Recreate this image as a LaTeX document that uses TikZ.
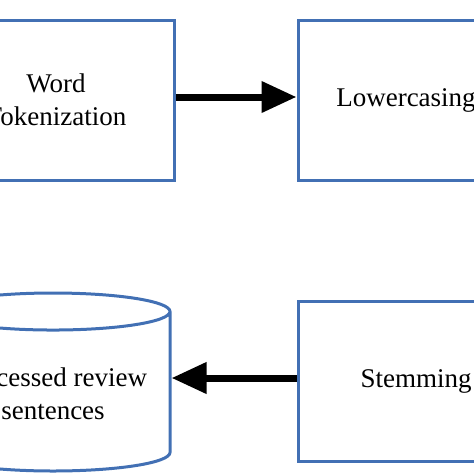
\documentclass[tikz,border=0pt]{standalone}
\usepackage{fontspec}
\setmainfont{Liberation Serif}
\usepackage{tikz}
\usetikzlibrary{arrows.meta,shapes.geometric}
\definecolor{stepblue}{RGB}{66,112,180}

\begin{document}
\begin{tikzpicture}[x=1pt, y=-1pt, font=\fontsize{27}{33}\selectfont, >=Latex]
\tikzset{
    stepbox/.style={draw=stepblue, line width=3pt, minimum width=236pt, minimum height=160pt, align=center},
    store/.style={cylinder, shape border rotate=90, aspect=0.19, draw=stepblue, line width=3pt, minimum width=234pt, minimum height=178pt, align=center},
    flow/.style={line width=7pt, -{Triangle[length=35pt, width=30pt]}}
}
\clip (0,0) rectangle (474,474);
\useasboundingbox (0,0) rectangle (474,474);
    % Preprocessing steps.
    \node[stepbox] (tok) at (56,100) {Word\\Tokenization};
    \node[stepbox, minimum width=216pt] (low) at (406,100) {Lowercasing};
    \node[stepbox] (stem) at (416,381) {Stemming};
    \node[store, anchor=shape center] (out) at (53,382) {Processed review\\sentences};
    % Flow between steps.
    \draw[flow] ([yshift=3pt]tok.east) -- ([yshift=3pt]tok.east -| low.west);
    \draw[flow] ([yshift=3pt]stem.west) -- ([yshift=3pt]stem.west -| out.east);
\end{tikzpicture}
\end{document}
